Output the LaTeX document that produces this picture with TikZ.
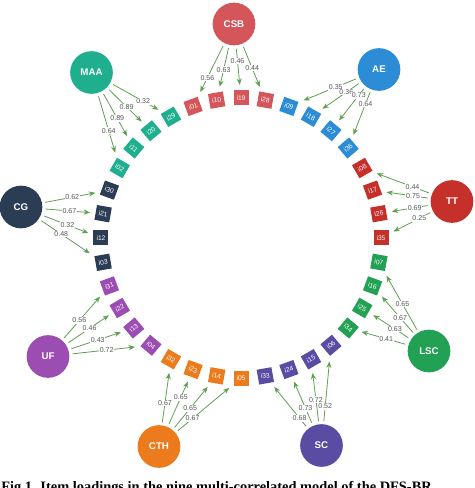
\documentclass[tikz,border=0pt]{standalone}
\usepackage{fontspec}
\setmainfont{Liberation Sans}
\newfontfamily\capfont{Liberation Serif}
\usetikzlibrary{arrows.meta,calc}
\definecolor{cCSB}{HTML}{D4555A}
\definecolor{cAE}{HTML}{2C8DD6}
\definecolor{cTT}{HTML}{C5302A}
\definecolor{cLSC}{HTML}{22A053}
\definecolor{cSC}{HTML}{5A4BA3}
\definecolor{cCTH}{HTML}{EB7B1C}
\definecolor{cUF}{HTML}{9B4DB2}
\definecolor{cCG}{HTML}{2B3C55}
\definecolor{cMAA}{HTML}{1FAF8E}
\definecolor{arrgreen}{HTML}{5E9F52}
\definecolor{lblgrey}{HTML}{555555}
\newcommand\loadarrow[4]{\draw[arr] (#1) -- (#2); \node[lbl] (l#2) at ($(#1)!#4!(#2)$) {#3};}
\begin{document}
\begin{tikzpicture}[x=0.75pt,y=0.75pt,
  factor/.style={circle, minimum size=32pt, inner sep=0pt, text=white, font=\fontsize{7.3}{8}\selectfont\bfseries},
  item/.style={rectangle, minimum size=11.25pt, inner sep=0pt, text=white, font=\fontsize{5}{5.5}\selectfont},
  arr/.style={draw=arrgreen, line width=0.6pt, -{Stealth[length=4.8pt,width=3.8pt]}, shorten <=2.3pt, shorten >=4pt},
  lbl/.style={fill=white, inner sep=0.6pt, text=lblgrey, font=\fontsize{5.3}{6}\selectfont}]
\useasboundingbox (-241,-250) rectangle (233,238);
\clip (-241,-250) rectangle (233,238);
% items on the ring
\foreach \n/\a/\r/\c in {19/90/0/cCSB, 28/80/-10/cCSB, 01/110/20/cCSB, 10/100/10/cCSB,
  09/70/-20/cAE, 18/60/-30/cAE, 27/50/-40/cAE, 36/40/40/cAE,
  08/30/30/cTT, 17/20/20/cTT, 26/10/10/cTT, 35/0/0/cTT,
  07/-10/-10/cLSC, 16/-20/-20/cLSC, 25/-30/-30/cLSC, 34/-40/-40/cLSC,
  06/-50/40/cSC, 15/-60/30/cSC, 24/-70/20/cSC, 33/-80/10/cSC,
  05/-90/0/cCTH, 14/-100/-10/cCTH, 23/-110/-20/cCTH, 32/-120/-30/cCTH,
  04/-130/-40/cUF, 13/-140/40/cUF, 22/-150/30/cUF, 31/-160/20/cUF,
  03/-170/10/cCG, 12/180/0/cCG, 21/170/-10/cCG, 30/160/-20/cCG,
  02/150/-30/cMAA, 11/140/-40/cMAA, 20/130/40/cMAA, 29/120/30/cMAA}
  {\node[item, fill=\c, rotate=\r] (i\n) at (\a:140) {i\n};}
% factors
\node[factor, fill=cCSB] (CSB) at (-7,214) {CSB};
\node[factor, fill=cAE] (AE) at (138,168.5) {AE};
\node[factor, fill=cTT] (TT) at (211,36.5) {TT};
\node[factor, fill=cLSC] (LSC) at (188,-113) {LSC};
\node[factor, fill=cSC] (SC) at (80.5,-207.5) {SC};
\node[factor, fill=cCTH] (CTH) at (-82,-208.5) {CTH};
\node[factor, fill=cUF] (UF) at (-193,-118.5) {UF};
\node[factor, fill=cCG] (CG) at (-220,31) {CG};
\node[factor, fill=cMAA] (MAA) at (-149.5,165.5) {MAA};
% loadings
\loadarrow{CSB}{i01}{0.56}{0.65}
\loadarrow{CSB}{i10}{0.63}{0.6}
\loadarrow{CSB}{i19}{0.46}{0.5}
\loadarrow{CSB}{i28}{0.44}{0.58}
\loadarrow{AE}{i09}{0.35}{0.48}
\loadarrow{AE}{i18}{0.36}{0.48}
\loadarrow{AE}{i27}{0.73}{0.42}
\loadarrow{AE}{i36}{0.64}{0.44}
\loadarrow{TT}{i08}{0.44}{0.44}
\loadarrow{TT}{i17}{0.75}{0.49}
\loadarrow{TT}{i26}{0.69}{0.51}
\loadarrow{TT}{i35}{0.25}{0.46}
\loadarrow{LSC}{i07}{0.65}{0.53}
\loadarrow{LSC}{i16}{0.67}{0.51}
\loadarrow{LSC}{i25}{0.63}{0.51}
\loadarrow{LSC}{i34}{0.41}{0.53}
\loadarrow{SC}{i06}{0.52}{0.39}
\loadarrow{SC}{i15}{0.72}{0.53}
\loadarrow{SC}{i24}{0.73}{0.49}
\loadarrow{SC}{i33}{0.68}{0.39}
\loadarrow{CTH}{i32}{0.67}{0.5}
\loadarrow{CTH}{i23}{0.65}{0.64}
\loadarrow{CTH}{i14}{0.65}{0.54}
\loadarrow{CTH}{i05}{0.67}{0.41}
\loadarrow{UF}{i31}{0.56}{0.51}
\loadarrow{UF}{i22}{0.46}{0.58}
\loadarrow{UF}{i13}{0.43}{0.58}
\loadarrow{UF}{i04}{0.72}{0.57}
\loadarrow{CG}{i30}{0.62}{0.58}
\loadarrow{CG}{i21}{0.67}{0.59}
\loadarrow{CG}{i12}{0.32}{0.58}
\loadarrow{CG}{i03}{0.48}{0.49}
\loadarrow{MAA}{i29}{0.32}{0.65}
\loadarrow{MAA}{i20}{0.89}{0.59}
\loadarrow{MAA}{i11}{0.89}{0.61}
\loadarrow{MAA}{i02}{0.64}{0.61}
% caption, cut off at the bottom edge as in the reference
\node[anchor=base west, inner sep=0pt, font=\capfont\bfseries\fontsize{10.8}{12}\selectfont] (cap) at (-240,-253.5) {Fig 1. Item loadings in the nine multi-correlated model of the DFS-BR};
\end{tikzpicture}
\end{document}
